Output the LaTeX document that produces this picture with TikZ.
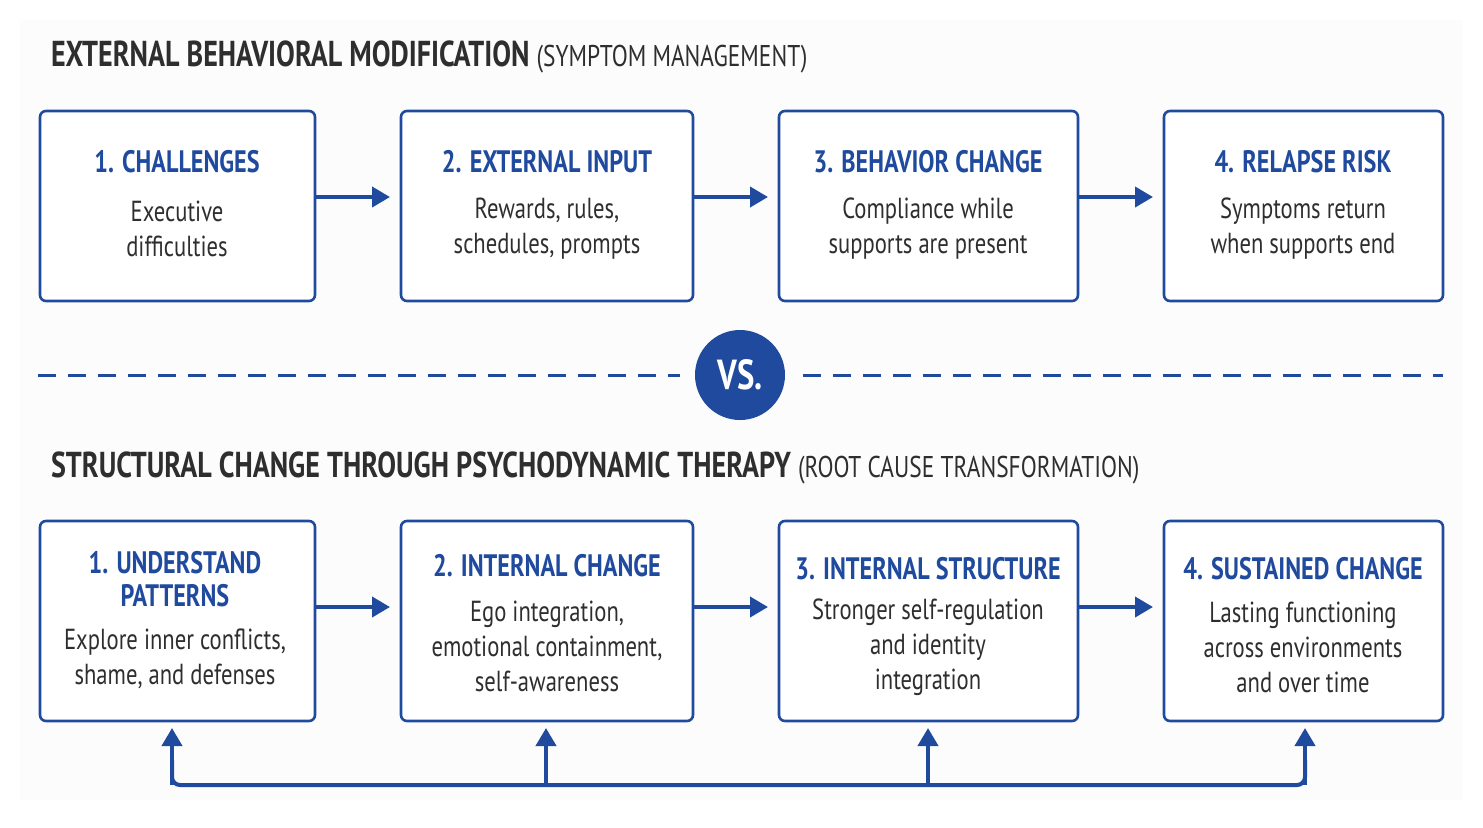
\documentclass[tikz,border=0pt]{standalone}
\usepackage{fontspec}
\setmainfont{PT Sans}[FakeStretch=0.78]
\usetikzlibrary{arrows.meta}
\definecolor{bl}{HTML}{1F4A9E}
\definecolor{hd}{HTML}{2E2E2E}
\begin{document}
\begin{tikzpicture}[x=0.5pt,y=-0.5pt,
  box/.style={draw=bl,line width=1.3pt,rounded corners=3pt,fill=white},
  ttl/.style={text=bl,font=\fontsize{15.5}{16.5}\selectfont\bfseries,align=center},
  bod/.style={text=hd,font=\fontsize{14.5}{17.5}\selectfont,align=center},
  arr/.style={draw=bl,line width=2pt,-{Triangle[length=9pt,width=10pt]}},
  head/.style={anchor=west,text=hd,font=\fontsize{18}{20}\selectfont\bfseries}]
\fill[white] (0,0) rectangle (1483,827);
\fill[gray!2] (20,20) rectangle (1463,800);
\node[head] (h1) at (44,57) {EXTERNAL BEHAVIORAL MODIFICATION \fontsize{15}{16}\selectfont\mdseries(SYMPTOM MANAGEMENT)};
\node[head] (h2) at (44,468) {STRUCTURAL CHANGE THROUGH PSYCHODYNAMIC THERAPY \fontsize{15}{16}\selectfont\mdseries(ROOT CAUSE TRANSFORMATION)};
% top row
\draw[box] (40,111) rectangle (315,301);
\draw[box] (401,111) rectangle (693,301);
\draw[box] (779,111) rectangle (1078,301);
\draw[box] (1164,111) rectangle (1443,301);
\node[ttl] (t1) at (177,162) {1. CHALLENGES};
\node[bod] (b1) at (177,229) {Executive\\difficulties};
\node[ttl] (t2) at (547,162) {2. EXTERNAL INPUT};
\node[bod] (b2) at (547,229) {Rewards, rules,\\schedules, prompts};
\node[ttl] (t3) at (928,162) {3. BEHAVIOR CHANGE};
\node[bod] (b3) at (928,229) {Compliance while\\supports are present};
\node[ttl] (t4) at (1303,162) {4. RELAPSE RISK};
\node[bod] (b4) at (1303,229) {Symptoms return\\when supports end};
\coordinate (r1) at (316,197); \coordinate (l2) at (390,197);
\coordinate (r2) at (694,197); \coordinate (l3) at (768,197);
\coordinate (r3) at (1079,197); \coordinate (l4) at (1153,197);
\draw[arr] (r1) -- (l2); \draw[arr] (r2) -- (l3); \draw[arr] (r3) -- (l4);
% vs
\coordinate (d1) at (38,375); \coordinate (d2) at (680,375);
\coordinate (d3) at (803,375); \coordinate (d4) at (1443,375);
\draw[bl,line width=1.5pt,dash pattern=on 9pt off 6pt] (d1) -- (d2) (d3) -- (d4);
\node[circle,fill=bl,minimum size=45pt,inner sep=0,text=white,font=\fontsize{21}{21}\selectfont\bfseries] (vs) at (740,375) {VS.};
% bottom row
\draw[box] (40,521) rectangle (315,721);
\draw[box] (401,521) rectangle (693,721);
\draw[box] (779,521) rectangle (1078,721);
\draw[box] (1164,521) rectangle (1443,721);
\node[ttl] (u1) at (175,579) {1. UNDERSTAND\\PATTERNS};
\node[bod] (c1) at (175,659) {Explore inner conflicts,\\shame, and defenses};
\node[ttl] (u2) at (547,566) {2. INTERNAL CHANGE};
\node[bod] (c2) at (547,646) {Ego integration,\\emotional containment,\\self-awareness};
\node[ttl] (u3) at (928,569) {3. INTERNAL STRUCTURE};
\node[bod] (c3) at (928,647) {Stronger self-regulation\\and identity\\integration};
\node[ttl] (u4) at (1303,569) {4. SUSTAINED CHANGE};
\node[bod] (c4) at (1303,647) {Lasting functioning\\across environments\\and over time};
\coordinate (s1) at (316,607); \coordinate (m2) at (390,607);
\coordinate (s2) at (694,607); \coordinate (m3) at (768,607);
\coordinate (s3) at (1079,607); \coordinate (m4) at (1153,607);
\draw[arr] (s1) -- (m2); \draw[arr] (s2) -- (m3); \draw[arr] (s3) -- (m4);
% feedback
\coordinate (f1) at (172,785); \coordinate (f4) at (1305,785);
\coordinate (f2) at (546,785); \coordinate (f3) at (928,785);
\draw[bl,line width=2pt,rounded corners=4pt] (172,760) -- (f1) -- (f4) -- (1305,760);
\draw[arr] (f1) -- (172,728); \draw[arr] (f2) -- (546,728);
\draw[arr] (f3) -- (928,728); \draw[arr] (f4) -- (1305,728);
\end{tikzpicture}
\end{document}
